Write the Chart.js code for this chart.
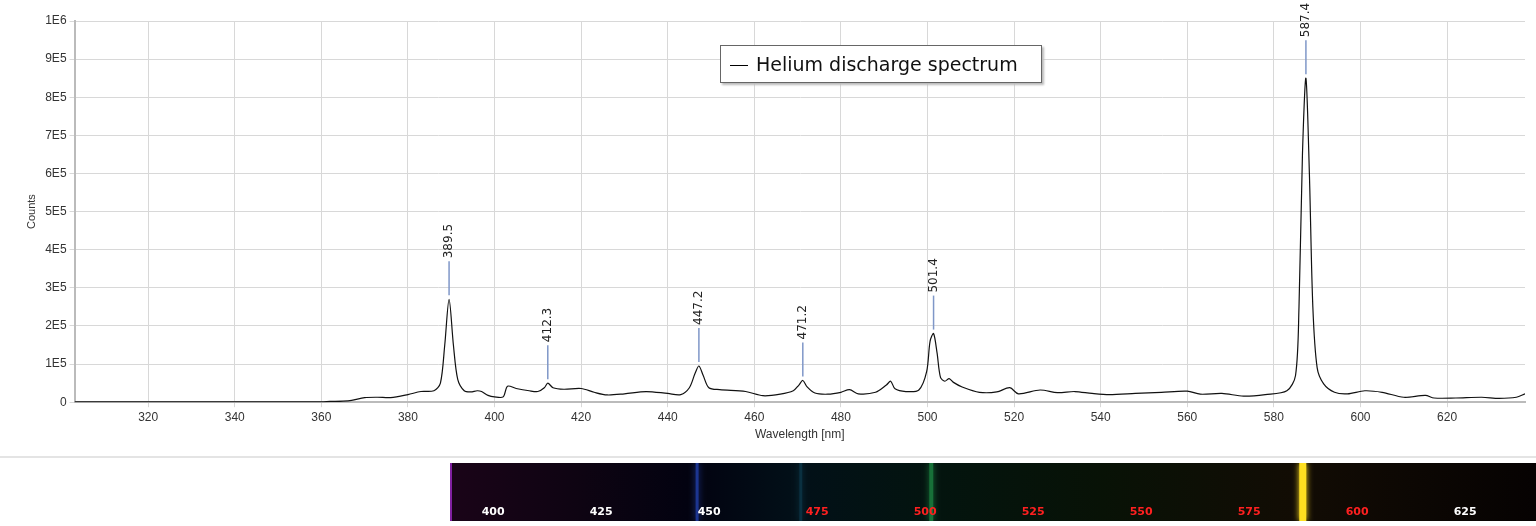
<!DOCTYPE html>
<html lang="en">
<head>
<meta charset="UTF-8">
<title>Helium discharge spectrum</title>
<script src="https://cdn.jsdelivr.net/npm/chart.js@4.4.0/dist/chart.umd.min.js"></script>
<style>
  body { margin: 0; background: #fff; font-family: "DejaVu Sans", sans-serif; }
  #wrap { position: relative; width: 1536px; height: 452px; }
  #legend { position: absolute; left: 720px; top: 45px; width: 320px; height: 36px; border: 1px solid #666;
            box-shadow: 2px 2px 2px #bbb; background: #fff; font-size: 19px; line-height: 36px; color: #111; }
  #legend span.ln { display: inline-block; width: 18px; border-top: 1px solid #000; vertical-align: middle; margin: 0 8px 0 9px; }
  #sep { position: absolute; left: 0; top: 456px; width: 1536px; border-top: 2px solid #e4e4e4; }
  #strip { position: absolute; left: 450px; top: 463px; width: 1086px; height: 58px; }
  .sl { position: absolute; top: 505px; font: bold 11px "DejaVu Sans", sans-serif; transform: translateX(-50%); }
</style>
</head>
<body>
<div id="wrap"><canvas id="myChart"></canvas>
  <div id="legend"><span class="ln"></span>Helium discharge spectrum</div>
</div>
<div id="sep"></div>
<canvas id="strip" width="1086" height="58"></canvas>
<div id="stripLabels"></div>

<script>
// wavelength (nm) and counts
const wavelengths = [303,320,340,360,362,365,367,370,373,376,380,383,386,387.5,388.5,389.5,390.5,391.5,393,394.5,396,397,398.5,400,402,403,405,408,410,411.5,412.3,413.5,416,420,423,426,430,435,440,443,445,446.3,447.2,448.2,449.5,452,458,462,466,469,470.3,471.2,472.2,474,477,480,482,484,488,490.5,491.5,492.5,495,498,499.8,500.6,501.4,502.2,503,504,505,506,508,512,516,519,521,526,530,534,538,542,548,554,560,563,568,573,578,583,585,585.8,586.6,587.4,588.2,589,590,591.5,594,597,601,605,610,615,617,622,628,632,636,638];
const counts = [1000,1000,1000,1000,2000,3000,5000,12000,13000,12000,20000,28000,30000,50000,150000,270000,150000,60000,30000,27000,30000,28000,18000,14000,14000,42000,36000,30000,28000,38000,50000,38000,34000,36000,26000,19000,22000,28000,23000,20000,38000,75000,95000,70000,38000,33000,28000,17000,21000,30000,45000,57000,40000,24000,21000,26000,33000,22000,26000,45000,55000,35000,28000,32000,80000,160000,180000,130000,65000,55000,62000,52000,40000,26000,27000,38000,22000,32000,25000,28000,23000,20000,23000,26000,29000,21000,23000,16000,20000,30000,70000,250000,650000,850000,600000,250000,90000,48000,26000,22000,30000,26000,13000,18000,11000,11000,13000,10000,13000,22000];
const peakLabels = ['389.5','412.3','447.2','471.2','501.4','587.4'];
const peakCounts = [270000,50000,95000,57000,180000,850000];
const stripTicks = [400,425,450,475,500,525,550,575,600,625];

const peakPlugin = {
  id: 'peaks',
  afterDatasetsDraw(chart) {
    const ctx = chart.ctx, xs = chart.scales.x, ys = chart.scales.y;
    peakLabels.forEach((lab, i) => {
      const x = xs.getPixelForValue(parseFloat(lab));
      const y = ys.getPixelForValue(peakCounts[i]) - 4;
      ctx.save();
      ctx.strokeStyle = '#7f97c8'; ctx.lineWidth = 1.5;
      ctx.beginPath(); ctx.moveTo(x, y); ctx.lineTo(x, y - 34); ctx.stroke();
      ctx.translate(x, y - 37); ctx.rotate(-Math.PI / 2);
      ctx.fillStyle = '#222'; ctx.font = '12px "DejaVu Sans"';
      ctx.textAlign = 'left'; ctx.textBaseline = 'middle';
      ctx.fillText(lab, 0, 0);
      ctx.restore();
    });
  }
};

new Chart(document.getElementById('myChart'), {
  type: 'line',
  data: { datasets: [{ data: wavelengths.map((w, i) => ({ x: w, y: counts[i] })),
    borderColor: '#111', borderWidth: 1.2, pointRadius: 0, tension: 0.3, fill: false }] },
  options: {
    responsive: true, maintainAspectRatio: false, animation: false,
    layout: { padding: { top: 21, right: 11, left: 21, bottom: 10 } },
    plugins: { legend: { display: false }, tooltip: { enabled: false } },
    scales: {
      x: { type: 'linear', min: 303, max: 638,
        ticks: { callback: v => v, color: '#333', font: { size: 12 } },
        afterBuildTicks: s => { s.ticks = []; for (let v = 320; v <= 620; v += 20) s.ticks.push({ value: v }); },
        grid: { color: '#d8d8d8', tickLength: 5 },
        border: { color: '#bbb', width: 2 },
        title: { display: true, text: 'Wavelength [nm]', color: '#333', font: { size: 12 }, padding: 0 } },
      y: { min: 0, max: 1000000,
        ticks: { stepSize: 100000, color: '#333', font: { size: 12 },
          callback: v => v === 0 ? '0' : (v === 1000000 ? '1E6' : (v / 100000) + 'E5') },
        grid: { color: '#d8d8d8', tickLength: 5 },
        border: { color: '#bbb', width: 2 },
        title: { display: true, text: 'Counts', color: '#333', font: { size: 11 } } }
    }
  },
  plugins: [peakPlugin]
});

// spectrum strip below the chart: 450px..1536px maps to about 390..641 nm
const sc = document.getElementById('strip').getContext('2d');
const nmToX = nm => (nm - 390) * 4.32;
const bg = sc.createLinearGradient(0, 0, 1086, 0);
bg.addColorStop(0, '#1a0418'); bg.addColorStop(0.12, '#0e0412'); bg.addColorStop(0.22, '#020210');
bg.addColorStop(0.32, '#021018'); bg.addColorStop(0.45, '#03140e'); bg.addColorStop(0.6, '#081206');
bg.addColorStop(0.78, '#120c04'); bg.addColorStop(1, '#060202');
sc.fillStyle = bg; sc.fillRect(0, 0, 1086, 58);
sc.fillStyle = '#8020a0'; sc.fillRect(0, 0, 2, 58);
const lines = [[447.2, '#1c3590', 3], [471.2, '#0a3040', 3], [501.4, '#177038', 4], [587.4, '#ffe020', 7]];
lines.forEach(([nm, col, w]) => {
  sc.save(); sc.shadowColor = col; sc.shadowBlur = 6;
  sc.fillStyle = col; sc.fillRect(nmToX(nm) - w / 2, 0, w, 58); sc.restore();
});
const sl = document.getElementById('stripLabels');
stripTicks.forEach(t => {
  const d = document.createElement('div');
  d.className = 'sl'; d.textContent = t;
  d.style.left = (450 + nmToX(t)) + 'px';
  d.style.color = (t >= 475 && t <= 600) ? '#ff2020' : '#fff';
  sl.appendChild(d);
});
</script>
</body>
</html>
